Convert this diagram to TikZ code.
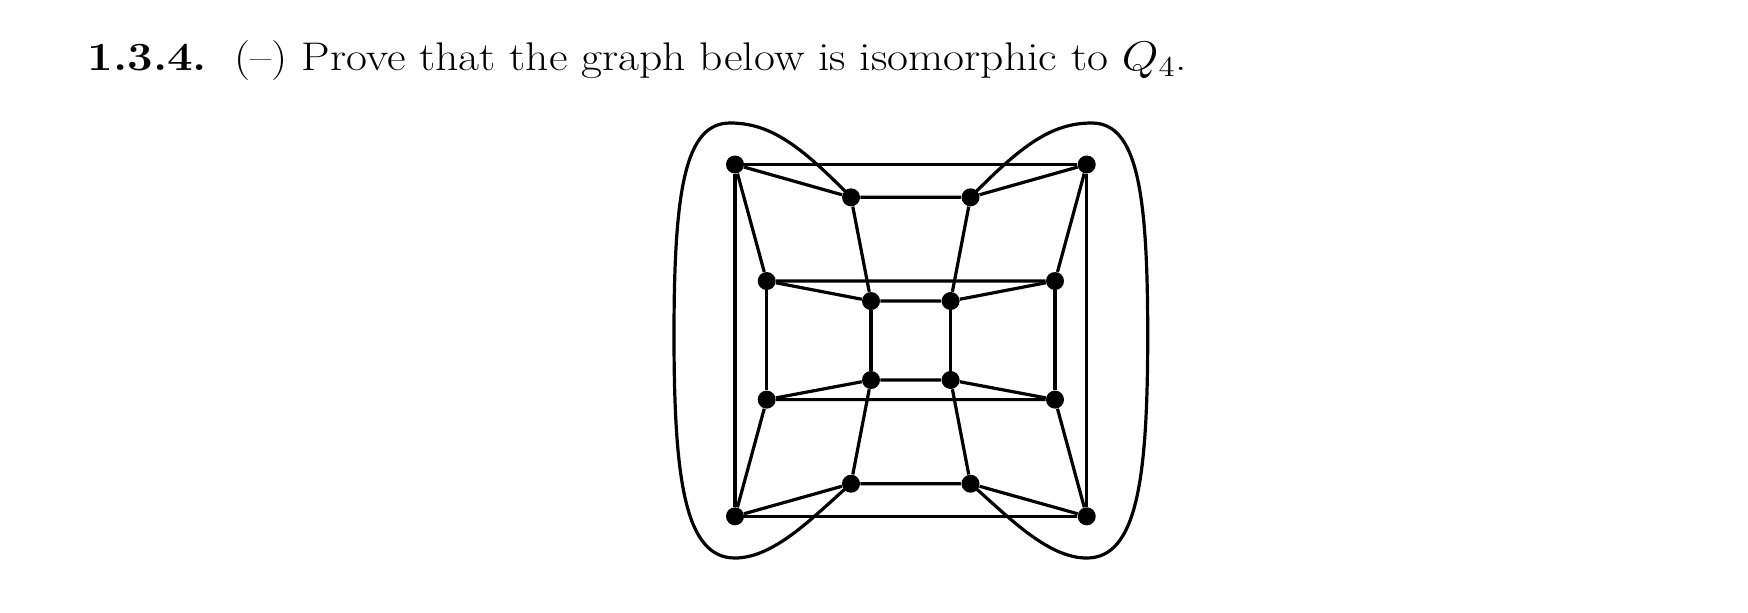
\documentclass[tikz,border=0pt]{standalone}
\begin{document}
\begin{tikzpicture}[x={(0.5pt,0)},y={(0,-0.5pt)},
  edge/.style={line width=1.6pt},
  vtx/.style={circle,fill=black,inner sep=0pt,minimum size=9pt},
  title/.style={anchor=base west,inner sep=0pt,font=\fontsize{20}{24}\selectfont}]
\useasboundingbox (0,0) rectangle (1748,612);
\node[title] (t) at (87,70) {\scalebox{1.14}[1]{\textbf{1.3.4.}\ \ (--) Prove that the graph below is isomorphic to $Q_4$.}};
% outer
\node[vtx] (A) at (735,164.5) {};
\node[vtx] (B) at (1086.7,164.5) {};
\node[vtx] (C) at (735,516.3) {};
\node[vtx] (D) at (1086.7,516.3) {};
% top/bottom inner
\node[vtx] (E) at (851,197.3) {};
\node[vtx] (F) at (970.5,197.3) {};
\node[vtx] (G) at (851,483.7) {};
\node[vtx] (H) at (970.5,483.7) {};
% middle left/right
\node[vtx] (I) at (766.7,281) {};
\node[vtx] (J) at (1055,281) {};
\node[vtx] (K) at (766.7,399.6) {};
\node[vtx] (L) at (1055,399.6) {};
% center
\node[vtx] (M) at (871,301) {};
\node[vtx] (N) at (950.6,301) {};
\node[vtx] (O) at (871,380) {};
\node[vtx] (P) at (950.6,380) {};
\begin{scope}[edge]
\draw (A) -- (B) -- (D) -- (C) -- (A);
\draw (A) -- (E) -- (F) -- (B);
\draw (C) -- (G) -- (H) -- (D);
\draw (A) -- (I) -- (J) -- (B);
\draw (C) -- (K) -- (L) -- (D);
\draw (I) -- (K);
\draw (J) -- (L);
\draw (I) -- (M) -- (N) -- (J);
\draw (K) -- (O) -- (P) -- (L);
\draw (M) -- (O);
\draw (N) -- (P);
\draw (E) -- (M);
\draw (F) -- (N);
\draw (G) -- (O);
\draw (H) -- (P);
\draw (E.center) .. controls (800,145) and (770,123) .. (730,123)
  .. controls (685,123) and (674,190) .. (674,335)
  .. controls (674,480) and (685,558) .. (735,558)
  .. controls (775,558) and (815,515) .. (G.center);
\draw (F.center) .. controls (1021.7,145) and (1051.7,123) .. (1091.7,123)
  .. controls (1136.7,123) and (1147.7,190) .. (1147.7,335)
  .. controls (1147.7,480) and (1136.7,558) .. (1086.7,558)
  .. controls (1046.7,558) and (1006.7,515) .. (H.center);
\end{scope}
\end{tikzpicture}
\end{document}
